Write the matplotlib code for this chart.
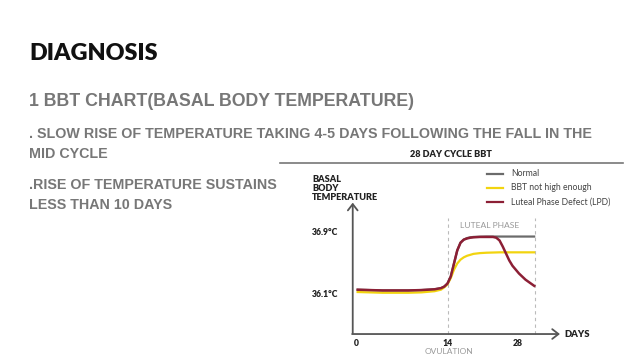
import matplotlib
matplotlib.use("Agg")
import matplotlib.pyplot as plt

W, H = 638, 359

# slide text
title = "DIAGNOSIS"
heading = "1 BBT CHART(BASAL BODY TEMPERATURE)"
bullets = [". SLOW RISE OF TEMPERATURE TAKING 4-5 DAYS FOLLOWING THE FALL IN THE",
           "MID CYCLE",
           ".RISE OF TEMPERATURE SUSTAINS",
           "LESS THAN 10 DAYS"]

# chart data (days, temperature in degC)
days_lpd = [0, 2, 4, 6, 8, 10, 12, 13, 13.5, 14, 14.5, 15, 15.5, 16, 16.5, 17, 17.5, 18,
            19, 20, 21, 21.5, 22, 22.5, 23, 23.5, 24, 25, 26, 27, 27.5]
temp_lpd = [36.16, 36.155, 36.15, 36.15, 36.15, 36.155, 36.165, 36.18, 36.2, 36.24, 36.33,
            36.5, 36.67, 36.77, 36.81, 36.825, 36.835, 36.84, 36.845, 36.845, 36.845, 36.835,
            36.8, 36.72, 36.63, 36.54, 36.47, 36.37, 36.29, 36.23, 36.2]
days_normal = [0, 2, 4, 6, 8, 10, 12, 13, 13.5, 14, 14.5, 15, 15.5, 16, 16.5, 17, 17.5, 18,
               20, 22, 24, 26, 27.5]
temp_normal = [36.16, 36.155, 36.15, 36.15, 36.15, 36.155, 36.165, 36.18, 36.2, 36.24, 36.33,
               36.5, 36.67, 36.77, 36.81, 36.83, 36.84, 36.845, 36.85, 36.85, 36.85, 36.85, 36.85]
days_low = [0, 2, 4, 6, 8, 10, 12, 13, 13.5, 14, 14.5, 15, 15.5, 16, 16.5, 17, 18, 19, 20,
            22, 24, 26, 27.5]
temp_low = [36.13, 36.125, 36.12, 36.12, 36.12, 36.125, 36.14, 36.16, 36.19, 36.23, 36.31,
            36.42, 36.5, 36.55, 36.58, 36.6, 36.625, 36.635, 36.64, 36.645, 36.645, 36.645, 36.645]
series_names = ["Normal", "BBT not high enough", "Luteal Phase Defect (LPD)"]
series_colors = ["#6b6b6b", "#f2d40f", "#8c1f35"]

tick_days = [0, 14, 24.8]
tick_labels = ["0", "14", "28"]
temp_ticks = [36.9, 36.1]
temp_labels = ["36.9°C", "36.1°C"]
luteal = [14, 27.5]


def fx(px):
    return px / W


def fy(py):
    return 1 - py / H


fig = plt.figure(figsize=(W / 100, H / 100), dpi=100)
fig.patch.set_facecolor("white")

fig.text(fx(29), fy(53), title, fontsize=16.8, fontweight="heavy", family="Lato",
         color="#111111", va="center")
fig.text(fx(29), fy(101), heading, fontsize=12.8, fontweight="bold",
         family="Liberation Sans", color="#777777", va="center")
for txt, y in zip(bullets, [134, 154, 185, 205]):
    fig.text(fx(29), fy(y), txt, fontsize=10.3, fontweight="bold",
             family="Liberation Sans", color="#777777", va="center")

# chart header
fig.text(fx(451), fy(155), "28 DAY CYCLE BBT", fontsize=6.6, fontweight="heavy",
         family="Lato", color="#222222", ha="center", va="center")
fig.add_artist(plt.Line2D([fx(280), fx(623)], [fy(163), fy(163)], color="#777777", lw=1.2))

# axes positioned so day 0 -> px 356.5 (6.5 px/day), 36.1 -> px 294.3 (77 px/deg)
x0, x1 = 340, 580
y0, y1 = 200, 340
ax = fig.add_axes([fx(x0), fy(y1), (x1 - x0) / W, (y1 - y0) / H])
ax.set_xlim((x0 - 356.5) / 6.5, (x1 - 356.5) / 6.5)
ax.set_ylim(36.1 - (y1 - 294.3) / 77, 36.1 + (294.3 - y0) / 77)
ax.axis("off")

ax_x = -0.58
ax_y = 35.584
ax.annotate("", xy=(ax_x, 37.29), xytext=(ax_x, ax_y + 0.01),
            arrowprops=dict(arrowstyle="->,head_length=0.45,head_width=0.35",
                            color="#555555", lw=1.3, shrinkA=0, shrinkB=0))
ax.annotate("", xy=(31.3, ax_y), xytext=(ax_x - 0.1, ax_y),
            arrowprops=dict(arrowstyle="->,head_length=0.45,head_width=0.35",
                            color="#555555", lw=1.3, shrinkA=0, shrinkB=0))

for d in luteal:
    ax.plot([d, d], [ax_y, 37.09], color="#bbbbbb", lw=0.8, ls=(0, (3, 3)))
ax.text(sum(luteal) / 2 - 0.3, 37.0, "LUTEAL PHASE", fontsize=6.1, family="Lato",
        color="#999999", ha="center", va="center")

ax.plot(days_normal, temp_normal, color=series_colors[0], lw=1.6, label=series_names[0],
        solid_capstyle="butt")
ax.plot(days_low, temp_low, color=series_colors[1], lw=1.6, label=series_names[1],
        solid_capstyle="butt")
ax.plot(days_lpd, temp_lpd, color=series_colors[2], lw=1.8, label=series_names[2],
        solid_capstyle="butt")

for d, lab in zip(tick_days, tick_labels):
    ax.text(d, 36.1 - (344 - 294.3) / 77, lab, fontsize=6.2, fontweight="heavy",
            family="Lato", color="#222222", ha="center", va="center", clip_on=False)
ax.text(14.2, 36.1 - (352 - 294.3) / 77, "OVULATION", fontsize=6, family="Lato",
        color="#999999", ha="center", va="center", clip_on=False)
ax.text(32.0, ax_y, "DAYS", fontsize=6.8, fontweight="heavy", family="Lato",
        color="#222222", ha="left", va="center", clip_on=False)

for t, lab in zip(temp_ticks, temp_labels):
    ax.text((312 - 356.5) / 6.5, t, lab, fontsize=6.2, fontweight="heavy", family="Lato",
            color="#222222", ha="left", va="center", clip_on=False)

fig.text(fx(312), fy(175), "BASAL\nBODY\nTEMPERATURE", fontsize=6.6, fontweight="heavy",
         family="Lato", color="#222222", ha="left", va="top", linespacing=1.0)

# legend
for i, (name, col) in enumerate(zip(series_names, series_colors)):
    y = fy(174 + 13.8 * i)
    fig.add_artist(plt.Line2D([fx(487), fx(503)], [y, y], color=col, lw=1.6))
    fig.text(fx(511), y, name, fontsize=6.2, family="Lato", color="#444444", va="center")

fig.savefig("out.png", dpi=100)
